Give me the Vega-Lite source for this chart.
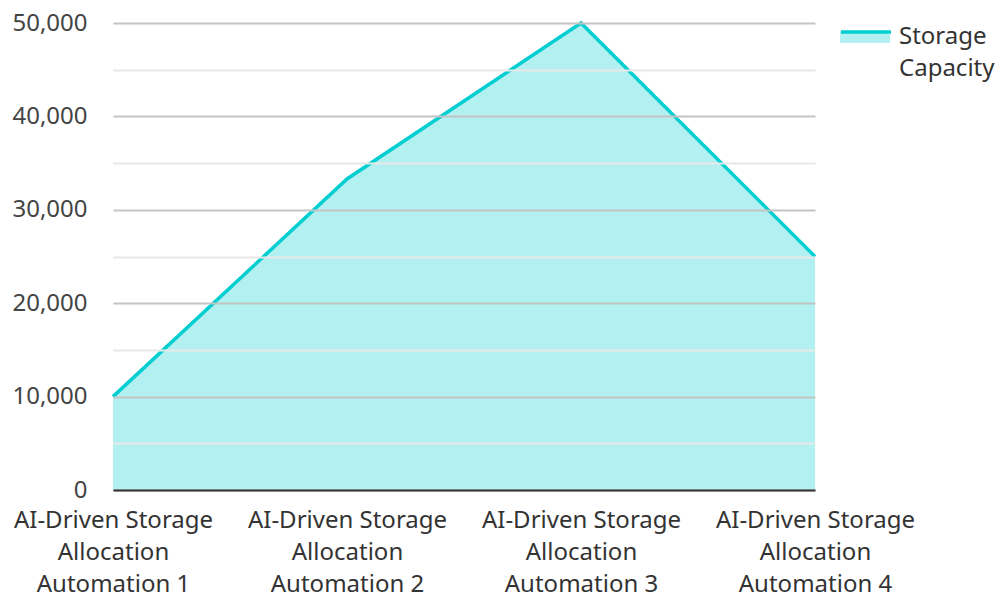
{
  "$schema": "https://vega.github.io/schema/vega-lite/v6.json",
  "width": 702,
  "height": 467,
  "autosize": "none",
  "padding": {"left": 113, "top": 23, "right": 186, "bottom": 104},
  "config": {
    "font": "Noto Sans",
    "view": {"stroke": null}
  },
  "data": {
    "values": [
      {"category": "AI-Driven Storage Allocation Automation 1", "series": "Storage Capacity", "value": 10000},
      {"category": "AI-Driven Storage Allocation Automation 2", "series": "Storage Capacity", "value": 33300},
      {"category": "AI-Driven Storage Allocation Automation 3", "series": "Storage Capacity", "value": 50000},
      {"category": "AI-Driven Storage Allocation Automation 4", "series": "Storage Capacity", "value": 25000}
    ]
  },
  "encoding": {
    "x": {
      "field": "category",
      "type": "nominal",
      "scale": {"type": "point", "padding": 0},
      "sort": null,
      "axis": {
        "title": null,
        "labelAngle": 0,
        "labelFontSize": 24,
        "labelColor": "#333333",
        "labelLineHeight": 32,
        "labelPadding": 18,
        "labelLimit": 300,
        "ticks": false,
        "domainColor": "#333333",
        "domainWidth": 2,
        "grid": false,
        "zindex": 2,
        "labelExpr": "split(replace(replace(datum.label, ' Allocation', '|Allocation'), ' Automation', '|Automation'), '|')"
      }
    },
    "y": {
      "field": "value",
      "type": "quantitative",
      "scale": {"domain": [0, 50000], "nice": false},
      "axis": {
        "title": null,
        "values": [0, 5000, 10000, 15000, 20000, 25000, 30000, 35000, 40000, 45000, 50000],
        "labelExpr": "datum.value % 10000 === 0 ? datum.label : ''",
        "labelFontSize": 24,
        "labelColor": "#444444",
        "labelPadding": 26,
        "ticks": false,
        "domain": false,
        "zindex": 1,
        "gridColor": {"condition": {"test": "datum.value % 10000 === 0", "value": "#c4c4c4"}, "value": "#e8e8e8"},
        "gridWidth": 2
      }
    }
  },
  "layer": [
    {
      "mark": {"type": "area", "opacity": 0.3},
      "encoding": {
        "fill": {
          "field": "series",
          "type": "nominal",
          "scale": {"range": ["#00ced1"]},
          "legend": {
            "title": null,
            "orient": "none",
            "legendX": 726,
            "legendY": -18,
            "symbolType": "M-1,0H1V0.48H-1Z",
            "symbolSize": 2500,
            "symbolOpacity": 0.3,
            "labelExpr": "''",
            "labelFontSize": 24
          }
        }
      }
    },
    {
      "mark": {"type": "line", "strokeWidth": 3.5},
      "encoding": {
        "stroke": {
          "field": "series",
          "type": "nominal",
          "scale": {"range": ["#00ced1"]},
          "legend": {
            "title": null,
            "orient": "none",
            "legendX": 726,
            "legendY": -18,
            "symbolType": "M-1,0H1",
            "symbolSize": 2500,
            "symbolStrokeWidth": 3.5,
            "labelFontSize": 24,
            "labelColor": "#333333",
            "labelOffset": 6,
            "labelExpr": "split(datum.label, ' ')",
            "labelBaseline": "middle",
            "encode": {"labels": {"update": {"lineHeight": {"value": 32}, "baseline": {"value": "top"}, "dy": {"value": -7}}}}
          }
        }
      }
    }
  ]
}
